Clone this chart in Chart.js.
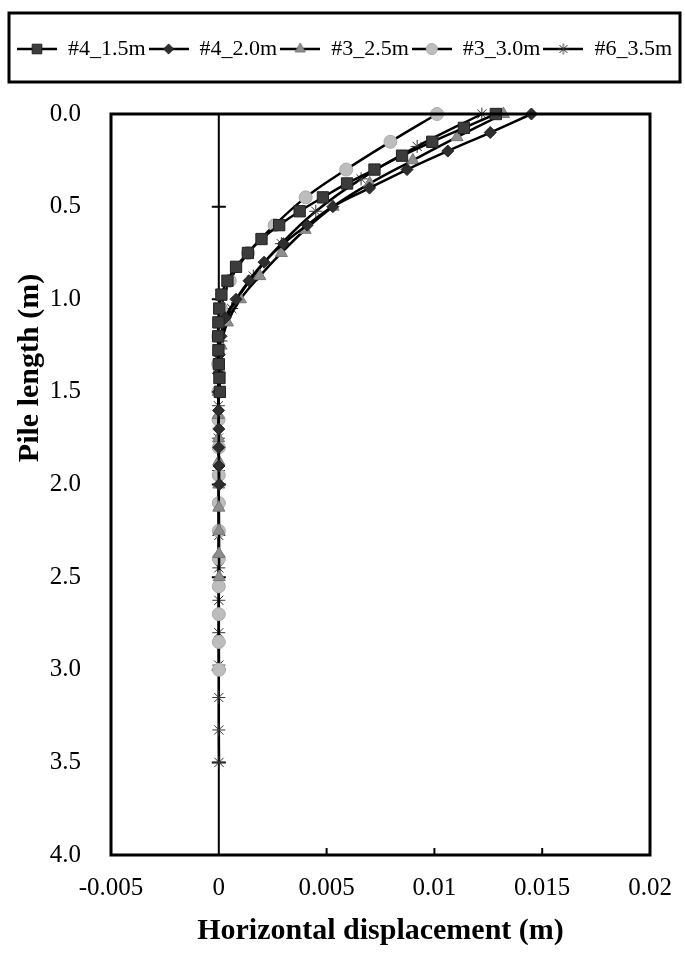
<!DOCTYPE html>
<html>
<head>
<meta charset="utf-8">
<script src="https://cdn.jsdelivr.net/npm/chart.js@4.4.1/dist/chart.umd.min.js"></script>
<style>
  html, body { margin: 0; padding: 0; background: #fff; }
  #wrap { width: 685px; height: 957px; }
</style>
</head>
<body>
<div id="wrap"><canvas id="pile-graph"></canvas></div>
<script>
const seriesNames = ['#4_1.5m', '#4_2.0m', '#3_2.5m', '#3_3.0m', '#6_3.5m']

// depth of each output node (m), pile head to toe
const depth15 = [0, 0.075, 0.15, 0.225, 0.3, 0.375, 0.45, 0.525, 0.6, 0.675, 0.75, 0.825, 0.9, 0.975, 1.05, 1.125, 1.2, 1.275, 1.35, 1.425, 1.5]
const depth20 = [0, 0.1, 0.2, 0.3, 0.4, 0.5, 0.6, 0.7, 0.8, 0.9, 1.0, 1.1, 1.2, 1.3, 1.4, 1.5, 1.6, 1.7, 1.8, 1.9, 2.0]
const depth25 = [0, 0.125, 0.25, 0.375, 0.5, 0.625, 0.75, 0.875, 1.0, 1.125, 1.25, 1.375, 1.5, 1.625, 1.75, 1.875, 2.0, 2.125, 2.25, 2.375, 2.5]
const depth30 = [0, 0.15, 0.3, 0.45, 0.6, 0.75, 0.9, 1.05, 1.2, 1.35, 1.5, 1.65, 1.8, 1.95, 2.1, 2.25, 2.4, 2.55, 2.7, 2.85, 3.0]
const depth35 = [0, 0.175, 0.35, 0.525, 0.7, 0.875, 1.05, 1.225, 1.4, 1.575, 1.75, 1.925, 2.1, 2.275, 2.45, 2.625, 2.8, 2.975, 3.15, 3.325, 3.5]

// horizontal displacement (m) at those nodes
const disp15 = [0.01285, 0.01137, 0.0099, 0.0085, 0.00722, 0.00595, 0.00483, 0.00375, 0.0028, 0.00198, 0.00135, 0.0008, 0.0004, 0.00012, 0.00002, -0.00002, -0.00003, -0.00002, 0, 0.00003, 0.00005]
const disp20 = [0.0145, 0.01259, 0.01062, 0.00873, 0.00699, 0.00529, 0.0041, 0.003, 0.0021, 0.0014, 0.0008, 0.0003, 0.0001, 0.00002, -0.00001, -0.00002, -0.00001, 0, 0, 0.00001, 0.00002]
const disp25 = [0.0132, 0.01105, 0.009, 0.007, 0.0053, 0.004, 0.0029, 0.0019, 0.001, 0.0004, 0.0001, 0.00002, -0.00002, -0.00002, -0.00001, 0, 0, 0, 0.00001, 0.00001, 0.00002]
const disp30 = [0.01012, 0.00796, 0.00591, 0.00403, 0.00259, 0.00136, 0.00051, 0.0001, -0.00002, -0.00003, -0.00002, -0.00001, 0, 0, 0, 0, 0, 0, 0, 0, 0.00001]
const disp35 = [0.0122, 0.0092, 0.0066, 0.0045, 0.0029, 0.0016, 0.0006, 0.0001, 0, -0.00002, -0.00002, -0.00001, 0, 0, 0, 0, 0, 0, 0, 0, 0.00001]

const xTicks = [-0.005, 0, 0.005, 0.01, 0.015, 0.02]
const yTicks = [0, 0.5, 1.0, 1.5, 2.0, 2.5, 3.0, 3.5, 4.0]
const xTitle = 'Horizontal displacement (m)'
const yTitle = 'Pile length (m)'

const depths = [depth15, depth20, depth25, depth30, depth35]
const disps = [disp15, disp20, disp25, disp30, disp35]
const markers = [
  { pointStyle: 'rect', radius: 8, fill: '#3c3c3c', stroke: '#222' },
  { pointStyle: 'rectRot', radius: 6, fill: '#2e2e2e', stroke: '#222' },
  { pointStyle: 'triangle', radius: 7, fill: '#8e8e8e', stroke: '#777' },
  { pointStyle: 'circle', radius: 6.5, fill: '#bdbdbd', stroke: '#aaa' },
  { pointStyle: 'star', radius: 6.5, fill: '#333', stroke: '#333' }
]
const serif = '"Liberation Serif", "Times New Roman", serif'

function legendIcon (m) {
  const c = document.createElement('canvas')
  c.width = 40
  c.height = 16
  const g = c.getContext('2d')
  g.strokeStyle = '#000'
  g.lineWidth = 2.5
  g.beginPath()
  g.moveTo(0, 8)
  g.lineTo(40, 8)
  g.stroke()
  g.fillStyle = m.fill
  g.strokeStyle = m.stroke
  g.lineWidth = 1
  Chart.helpers.drawPoint(g, { pointStyle: m.pointStyle, radius: m.radius * 0.85, borderWidth: 1, rotation: 0 }, 20, 8)
  return c
}

const datasets = seriesNames.map((name, i) => ({
  label: name,
  data: depths[i].map((d, k) => ({ x: disps[i][k], y: d })),
  showLine: true,
  tension: 0.4,
  borderColor: '#000',
  borderWidth: 2.5,
  pointStyle: markers[i].pointStyle,
  pointRadius: markers[i].radius,
  pointBackgroundColor: markers[i].fill,
  pointBorderColor: markers[i].stroke,
  pointBorderWidth: 1,
  clip: false
}))

const axisLines = {
  id: 'axisLines',
  beforeDatasetsDraw (chart) {
    const { ctx, chartArea: a, scales: { x, y } } = chart
    const x0 = x.getPixelForValue(0)
    ctx.save()
    ctx.strokeStyle = '#000'
    ctx.lineWidth = 2
    ctx.beginPath()
    ctx.moveTo(x0, a.top)
    ctx.lineTo(x0, a.bottom)
    yTicks.forEach(v => {
      const py = y.getPixelForValue(v)
      ctx.moveTo(x0 - 7, py)
      ctx.lineTo(x0 + 7, py)
    })
    xTicks.forEach(v => {
      const px = x.getPixelForValue(v)
      ctx.moveTo(px, a.bottom)
      ctx.lineTo(px, a.bottom - 7)
    })
    ctx.stroke()
    ctx.restore()
  },
  afterDraw (chart) {
    const { ctx, chartArea: a, legend } = chart
    ctx.save()
    ctx.strokeStyle = '#000'
    ctx.lineWidth = 3
    ctx.strokeRect(a.left, a.top, a.right - a.left, a.bottom - a.top)
    ctx.strokeRect(legend.left, legend.top - 22, legend.right - legend.left, 69)
    ctx.translate(30, 368)
    ctx.rotate(-Math.PI / 2)
    ctx.font = 'bold 30px ' + serif
    ctx.fillStyle = '#000'
    ctx.textAlign = 'center'
    ctx.textBaseline = 'middle'
    ctx.fillText(yTitle, 0, 0)
    ctx.restore()
  }
}

const legendSpace = {
  id: 'legendSpace',
  beforeUpdate (chart) {
    const lg = chart.legend
    if (lg && !lg._patched) {
      const fit = lg.fit
      lg.fit = function () {
        fit.call(this)
        this.height = 79
      }
      lg._patched = true
    }
  }
}

const legendIcons = markers.map(legendIcon)

new Chart(document.getElementById('pile-graph'), {
  type: 'scatter',
  data: { datasets },
  plugins: [legendSpace, axisLines],
  options: {
    responsive: true,
    maintainAspectRatio: false,
    animation: false,
    layout: { padding: { left: 9, right: 5, top: 35, bottom: 0 } },
    scales: {
      x: {
        type: 'linear',
        min: -0.005,
        max: 0.02,
        afterBuildTicks: s => { s.ticks = xTicks.map(v => ({ value: v })) },
        afterFit: s => {
          s.height = 102
          s.paddingLeft = 0
          s.paddingRight = 0
        },
        grid: { display: false, drawTicks: false },
        border: { display: false },
        ticks: {
          padding: 18,
          color: '#000',
          font: { family: serif, size: 25 },
          callback: v => String(Math.round(v * 1000) / 1000)
        },
        title: {
          display: true,
          text: xTitle,
          color: '#000',
          font: { family: serif, size: 30, weight: 'bold' },
          padding: { top: 4, bottom: 8 }
        }
      },
      y: {
        type: 'linear',
        reverse: true,
        min: 0,
        max: 4,
        afterBuildTicks: s => { s.ticks = yTicks.map(v => ({ value: v })) },
        afterFit: s => { s.width = 102 },
        grid: { display: false, drawTicks: false },
        border: { display: false },
        ticks: {
          padding: 30,
          color: '#000',
          font: { family: serif, size: 25 },
          callback: v => Number(v).toFixed(1)
        }
      },
      yr: {
        type: 'linear',
        position: 'right',
        display: true,
        afterFit: s => { s.width = 30 },
        grid: { display: false, drawTicks: false },
        border: { display: false },
        ticks: { display: false }
      }
    },
    plugins: {
      tooltip: { enabled: false },
      legend: {
        position: 'top',
        labels: {
          usePointStyle: true,
          pointStyleWidth: 40,
          padding: 3,
          color: '#000',
          font: { family: serif, size: 22 },
          generateLabels: chart => chart.data.datasets.map((ds, i) => ({
            text: ds.label,
            pointStyle: legendIcons[i],
            fillStyle: markers[i].fill,
            strokeStyle: '#000',
            lineWidth: 0,
            hidden: false,
            datasetIndex: i
          }))
        }
      }
    }
  }
})
</script>
</body>
</html>
